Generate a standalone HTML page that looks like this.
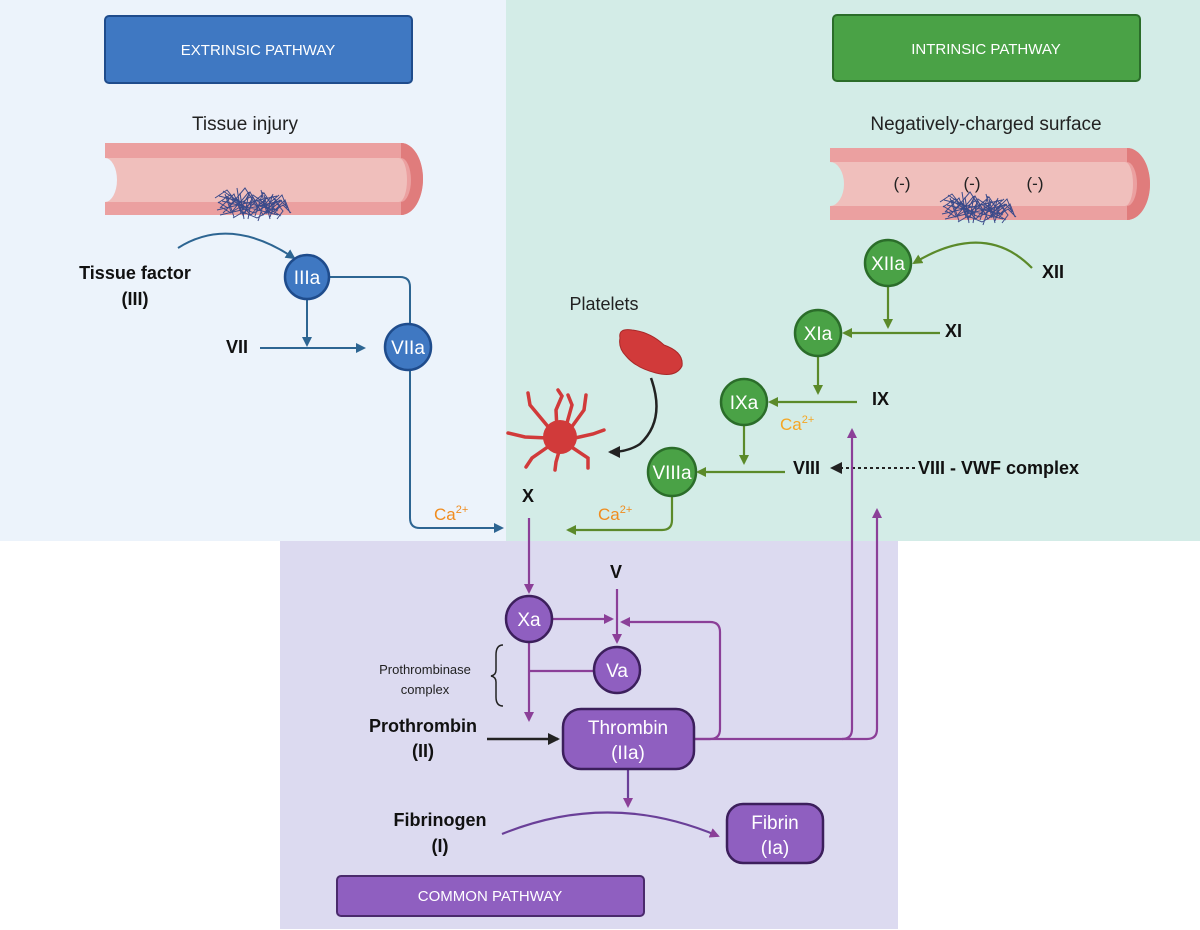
<!DOCTYPE html>
<html><head><meta charset="utf-8"><style>
html,body{margin:0;padding:0;background:#fff}
svg{display:block}
text{font-family:"Liberation Sans",sans-serif}
</style></head><body>
<svg width="1200" height="930" viewBox="0 0 1200 930" xmlns="http://www.w3.org/2000/svg">
<defs>
<marker id="ab" markerWidth="10" markerHeight="10" refX="8" refY="5" orient="auto" markerUnits="userSpaceOnUse"><path d="M0,0 L10,5 L0,10 Z" fill="#2d6592"/></marker>
<marker id="ag" markerWidth="10" markerHeight="10" refX="8" refY="5" orient="auto" markerUnits="userSpaceOnUse"><path d="M0,0 L10,5 L0,10 Z" fill="#5b8a2a"/></marker>
<marker id="ap" markerWidth="10" markerHeight="10" refX="8" refY="5" orient="auto" markerUnits="userSpaceOnUse"><path d="M0,0 L10,5 L0,10 Z" fill="#8b3f98"/></marker>
<marker id="ak" markerWidth="12" markerHeight="12" refX="10" refY="6" orient="auto" markerUnits="userSpaceOnUse"><path d="M0,0 L12,6 L0,12 Z" fill="#222"/></marker>
<g id="clot" stroke="#3a4a8a" stroke-width="1" fill="none">
<path d="M0,10 l12,-8 l8,10 l10,-12 l9,14 l10,-9 l8,12 l10,-10 l5,13 M5,20 l14,-14 l6,16 l10,-18 l10,18 l12,-14 l8,10 l-6,8 M8,3 l18,12 l12,-8 l14,10 l12,-10 M15,25 l10,-6 l14,6 l14,-8 l10,6 M3,14 l10,6 l8,-10 l12,12 l10,-12 l10,10 l12,-8 l8,8 M10,6 l6,18 M22,0 l4,26 M34,4 l-4,22 M46,2 l6,24 M58,6 l-6,18 M40,28 l8,-24 M2,22 l60,-14 M4,8 l56,14"/>
</g>
</defs>
<rect x="0" y="0" width="1200" height="930" fill="#fff"/>
<rect x="0" y="0" width="506" height="541" fill="#ecf3fb"/>
<rect x="506" y="0" width="694" height="541" fill="#d3ece7"/>
<rect x="280" y="541" width="618" height="388" fill="#dcdaf0"/>

<rect x="105" y="16" width="307" height="67" rx="4" fill="#3f78c2" stroke="#1f4c8c" stroke-width="2"/>
<text x="258" y="55" font-size="15" fill="#fff" text-anchor="middle">EXTRINSIC PATHWAY</text>
<rect x="833" y="15" width="307" height="66" rx="4" fill="#4aa246" stroke="#2b6d2a" stroke-width="2"/>
<text x="986" y="54" font-size="15" fill="#fff" text-anchor="middle">INTRINSIC PATHWAY</text>

<text x="245" y="130" font-size="19" fill="#222" text-anchor="middle">Tissue injury</text>
<text x="986" y="130" font-size="19" fill="#222" text-anchor="middle">Negatively-charged surface</text>

<!-- vessel 1 -->
<path d="M105,143 H401 A22,36 0 0 1 401,215 H105 Z" fill="#eba0a0"/>
<path d="M401,143 A22,36 0 0 1 401,215 L401,202 A10,22 0 0 0 401,158 Z" fill="#e07c7c"/>
<path d="M105,158 H399 A8,22 0 0 1 399,202 H105 Z" fill="#f0bfbc"/>
<path d="M105,158 A12,22 0 0 1 105,202 Z" fill="#ecf3fb"/>
<use href="#clot" x="215" y="188"/>
<use href="#clot" x="218" y="193"/>
<!-- vessel 2 -->
<path d="M830,148 H1127 A23,36 0 0 1 1127,220 H830 Z" fill="#eba0a0"/>
<path d="M1127,148 A23,36 0 0 1 1127,220 L1127,206 A10,22 0 0 0 1127,162 Z" fill="#e07c7c"/>
<path d="M830,162 H1125 A8,22 0 0 1 1125,206 H830 Z" fill="#f0bfbc"/>
<path d="M830,162 A14,22 0 0 1 830,206 Z" fill="#d3ece7"/>
<use href="#clot" x="940" y="192"/>
<use href="#clot" x="943" y="197"/>
<text x="902" y="189" font-size="17" fill="#222" text-anchor="middle">(-)</text>
<text x="972" y="189" font-size="17" fill="#222" text-anchor="middle">(-)</text>
<text x="1035" y="189" font-size="17" fill="#222" text-anchor="middle">(-)</text>

<g stroke="#2d6592" stroke-width="2" fill="none">
<path d="M178,248 Q230,215 294,258" marker-end="url(#ab)"/>
<path d="M330,277 H400 Q410,277 410,287 V323"/>
<path d="M307,300 V345" marker-end="url(#ab)"/>
<path d="M260,348 H364" marker-end="url(#ab)"/>
<path d="M410,371 V518 Q410,528 420,528 H502" marker-end="url(#ab)"/>
</g>
<circle cx="307" cy="277" r="22" fill="#3f78c2" stroke="#1f4c8c" stroke-width="2.5"/>
<text x="307" y="284" font-size="19" fill="#fff" text-anchor="middle">IIIa</text>
<circle cx="408" cy="347" r="23" fill="#3f78c2" stroke="#1f4c8c" stroke-width="2.5"/>
<text x="408" y="354" font-size="19" fill="#fff" text-anchor="middle">VIIa</text>
<text x="135" y="279" font-size="18" font-weight="bold" fill="#111" text-anchor="middle">Tissue factor</text>
<text x="135" y="305" font-size="18" font-weight="bold" fill="#111" text-anchor="middle">(III)</text>
<text x="237" y="353" font-size="18" font-weight="bold" fill="#111" text-anchor="middle">VII</text>
<text x="434" y="520" font-size="17" fill="#f08c1e">Ca<tspan font-size="11" dy="-7">2+</tspan></text>

<text x="604" y="310" font-size="18" fill="#222" text-anchor="middle">Platelets</text>
<path d="M620,338 Q618,328 632,330 Q650,332 664,345 Q684,352 682,366 Q676,378 656,373 Q636,368 626,356 Q618,348 620,338 Z" fill="#d13a3a" stroke="#a82828"/>
<path d="M651,378 Q666,420 640,444 Q628,452 610,452" stroke="#222" stroke-width="2.5" fill="none" marker-end="url(#ak)"/>
<g stroke="#d13a3a" stroke-width="3.5" fill="none" stroke-linecap="round">
<path d="M555,435 L530,405 L528,393"/><path d="M557,430 L556,410 L562,396 L558,390"/>
<path d="M565,430 L572,405 L568,395"/><path d="M568,432 L584,410 L586,395"/>
<path d="M575,438 L593,434 L604,430"/><path d="M570,446 L588,458 L588,468"/>
<path d="M560,448 L556,462 L555,470"/><path d="M552,444 L532,458 L526,467"/>
<path d="M548,438 L525,437 L508,433"/>
</g>
<circle cx="560" cy="437" r="17" fill="#d13a3a"/>
<text x="528" y="502" font-size="18" font-weight="bold" fill="#111" text-anchor="middle">X</text>

<g stroke="#5b8a2a" stroke-width="2.2" fill="none">
<path d="M1032,268 Q985,220 914,263" marker-end="url(#ag)"/>
<path d="M888,287 V327" marker-end="url(#ag)"/>
<path d="M940,333 H844" marker-end="url(#ag)"/>
<path d="M818,357 V393" marker-end="url(#ag)"/>
<path d="M857,402 H770" marker-end="url(#ag)"/>
<path d="M744,426 V463" marker-end="url(#ag)"/>
<path d="M785,472 H698" marker-end="url(#ag)"/>
<path d="M672,496 V520 Q672,530 662,530 H568" marker-end="url(#ag)"/>
</g>
<path d="M915,468 H832" stroke="#222" stroke-width="2" stroke-dasharray="3,3" fill="none" marker-end="url(#ak)"/>
<g fill="#4aa246" stroke="#2b6d2a" stroke-width="2.5">
<circle cx="888" cy="263" r="23"/><circle cx="818" cy="333" r="23"/>
<circle cx="744" cy="402" r="23"/><circle cx="672" cy="472" r="24"/>
</g>
<g font-size="19" fill="#fff" text-anchor="middle">
<text x="888" y="270">XIIa</text><text x="818" y="340">XIa</text>
<text x="744" y="409">IXa</text><text x="672" y="479">VIIIa</text>
</g>
<g font-size="18" font-weight="bold" fill="#111">
<text x="1042" y="278">XII</text><text x="945" y="337">XI</text>
<text x="872" y="405">IX</text><text x="793" y="474">VIII</text>
<text x="918" y="474">VIII - VWF complex</text>
</g>
<text x="780" y="430" font-size="17" fill="#f5a623">Ca<tspan font-size="11" dy="-7">2+</tspan></text>
<text x="598" y="520" font-size="17" fill="#f08c1e">Ca<tspan font-size="11" dy="-7">2+</tspan></text>

<g stroke="#8b3f98" stroke-width="2.2" fill="none">
<path d="M529,518 V592" marker-end="url(#ap)"/>
<path d="M553,619 H612" marker-end="url(#ap)"/>
<path d="M617,589 V642" marker-end="url(#ap)"/>
<path d="M694,739 H710 Q720,739 720,729 V632 Q720,622 710,622 H622" marker-end="url(#ap)"/>
<path d="M529,643 V720" marker-end="url(#ap)"/>
<path d="M529,671 H593"/>
<path d="M694,739 H842 Q852,739 852,729 V430" marker-end="url(#ap)"/>
<path d="M842,739 H867 Q877,739 877,729 V510" marker-end="url(#ap)"/>
<path d="M628,769 V806" marker-end="url(#ap)" stroke="#6a3f98"/>
<path d="M502,834 Q610,790 718,836" marker-end="url(#ap)" stroke="#6a3f98"/>
</g>
<path d="M487,739 H558" stroke="#222" stroke-width="2.5" fill="none" marker-end="url(#ak)"/>
<g fill="#8f5fc0" stroke="#3c1f5c" stroke-width="2.5">
<circle cx="529" cy="619" r="23"/><circle cx="617" cy="670" r="23"/>
<rect x="563" y="709" width="131" height="60" rx="18"/>
<rect x="727" y="804" width="96" height="59" rx="16"/>
</g>
<rect x="337" y="876" width="307" height="40" rx="4" fill="#8f5fc0" stroke="#4a2a6c" stroke-width="2"/>
<g fill="#fff" text-anchor="middle">
<text x="529" y="626" font-size="19">Xa</text><text x="617" y="677" font-size="19">Va</text>
<text x="628" y="734" font-size="19">Thrombin</text><text x="628" y="759" font-size="19">(IIa)</text>
<text x="775" y="829" font-size="19">Fibrin</text><text x="775" y="854" font-size="19">(Ia)</text>
<text x="490" y="901" font-size="15">COMMON PATHWAY</text>
</g>
<text x="616" y="578" font-size="18" font-weight="bold" fill="#111" text-anchor="middle">V</text>
<text x="423" y="732" font-size="18" font-weight="bold" fill="#111" text-anchor="middle">Prothrombin</text>
<text x="423" y="757" font-size="18" font-weight="bold" fill="#111" text-anchor="middle">(II)</text>
<text x="440" y="826" font-size="18" font-weight="bold" fill="#111" text-anchor="middle">Fibrinogen</text>
<text x="440" y="852" font-size="18" font-weight="bold" fill="#111" text-anchor="middle">(I)</text>
<text x="425" y="674" font-size="13" fill="#222" text-anchor="middle">Prothrombinase</text>
<text x="425" y="694" font-size="13" fill="#222" text-anchor="middle">complex</text>
<path d="M503,645 Q496,645 496,655 V670 Q496,675 491,676 Q496,677 496,682 V697 Q496,706 503,706" stroke="#222" stroke-width="1.5" fill="none"/>
</svg>
</body></html>
